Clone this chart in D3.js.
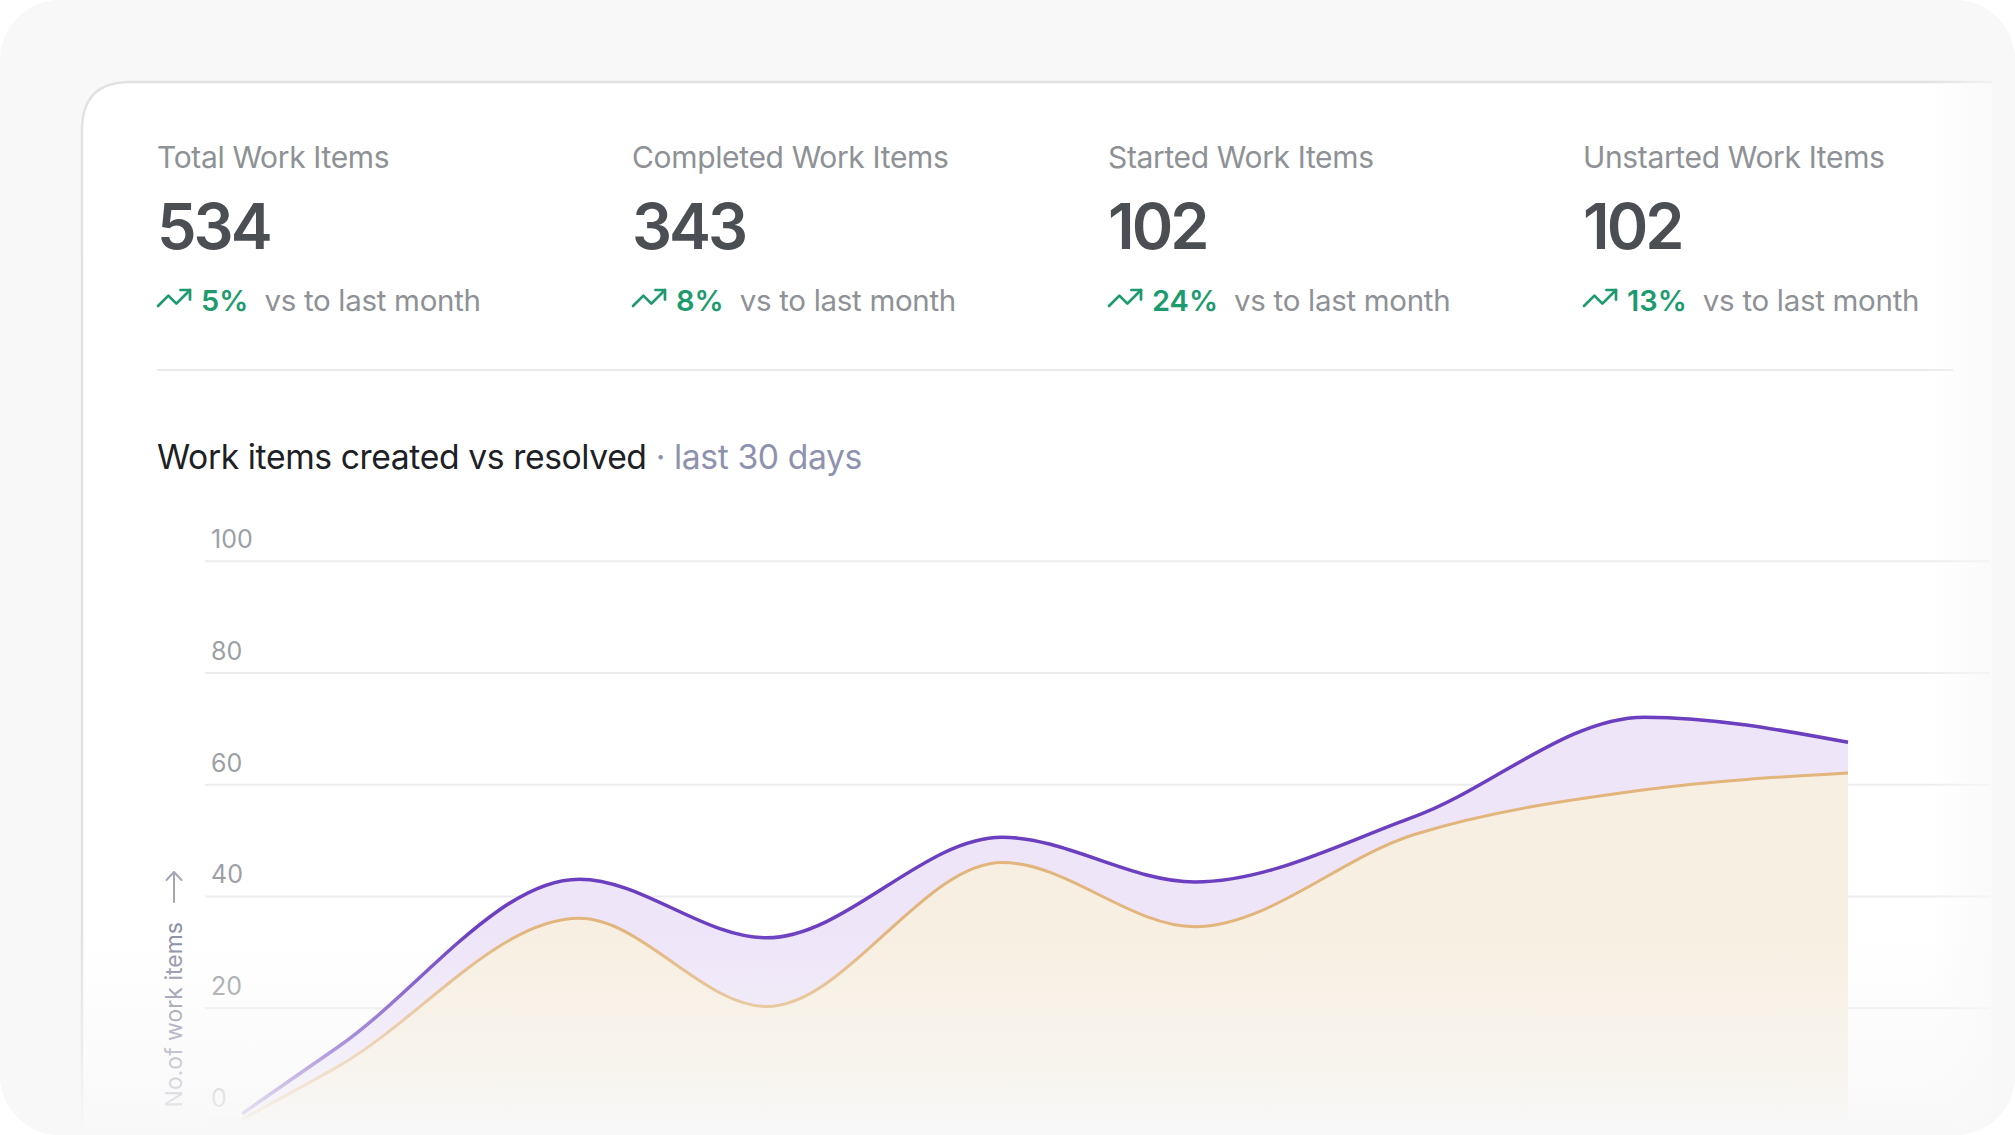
<!DOCTYPE html>
<html>
<head>
<meta charset="utf-8">
<script src="https://cdn.jsdelivr.net/npm/d3@7"></script>
<style>
  html, body { margin: 0; padding: 0; background: #ffffff; }
  svg { display: block; font-family: Inter, "Noto Sans", sans-serif; }
</style>
</head>
<body>
<svg id="chart" width="2015" height="1135"></svg>
<script>
// ---- data ----
const kpiLabels = ["Total Work Items", "Completed Work Items", "Started Work Items", "Unstarted Work Items"];
const kpiValues = ["534", "343", "102", "102"];
const kpiChanges = ["5%", "8%", "24%", "13%"];
const kpiNote = "vs to last month";

const chartTitle = "Work items created vs resolved";
const chartSubtitle = " · last 30 days";
const yAxisTitle = "No.of work items";

// day position of each reading within the 30-day window
const days = [0, 1.8, 6.3, 9.8, 14.2, 17.8, 21.9, 26.2, 30];
const created = [1, 13, 43, 32.5, 50.5, 42.5, 54.2, 72, 67.5];
const resolved = [0, 9.5, 36, 20.2, 46, 34.5, 51, 59, 62];
const yTicks = [0, 20, 40, 60, 80, 100];

// ---- drawing ----
const W = 2015, H = 1135;
const svg = d3.select("#chart");
const defs = svg.append("defs");

defs.append("clipPath").attr("id", "outerClip")
  .append("rect").attr("x", 0).attr("y", 0).attr("width", W).attr("height", H).attr("rx", 60).attr("ry", 60);

const bottomFade = defs.append("linearGradient").attr("id", "bottomFade")
  .attr("x1", 0).attr("y1", 0).attr("x2", 0).attr("y2", 1);
bottomFade.append("stop").attr("offset", "0%").attr("stop-color", "#f8f8f8").attr("stop-opacity", 0);
bottomFade.append("stop").attr("offset", "55%").attr("stop-color", "#f8f8f8").attr("stop-opacity", 0.45);
bottomFade.append("stop").attr("offset", "100%").attr("stop-color", "#f8f8f8").attr("stop-opacity", 1);

const rightFade = defs.append("linearGradient").attr("id", "rightFade")
  .attr("x1", 0).attr("y1", 0).attr("x2", 1).attr("y2", 0);
rightFade.append("stop").attr("offset", "0%").attr("stop-color", "#f8f8f8").attr("stop-opacity", 0);
rightFade.append("stop").attr("offset", "100%").attr("stop-color", "#f8f8f8").attr("stop-opacity", 1);

const root = svg.append("g").attr("clip-path", "url(#outerClip)");
root.append("rect").attr("width", W).attr("height", H).attr("fill", "#f8f8f8");

// card: rounded top-left corner, extends past right and bottom
const cx0 = 82, cy0 = 82, r = 48, cardRight = 1992;
root.append("path")
  .attr("d", `M${cx0},${H + 20} L${cx0},${cy0 + r} Q${cx0},${cy0} ${cx0 + r},${cy0} L${cardRight},${cy0} L${cardRight},${H + 20} Z`)
  .attr("fill", "#ffffff");
root.append("path")
  .attr("d", `M${cx0},${H + 20} L${cx0},${cy0 + r} Q${cx0},${cy0} ${cx0 + r},${cy0} L${cardRight},${cy0}`)
  .attr("fill", "none")
  .attr("stroke", "#e2e2e3")
  .attr("stroke-width", 2.5);

// KPI row
const colX = [157, 632, 1108, 1583];
const kpi = root.append("g").selectAll("g").data(kpiLabels).join("g")
  .attr("transform", (d, i) => `translate(${colX[i]},0)`);

kpi.append("text").attr("x", 0).attr("y", 168)
  .attr("font-size", 30).attr("fill", "#8e9195").attr("letter-spacing", -0.35)
  .text(d => d);

kpi.append("text").attr("x", 0).attr("y", 249)
  .attr("font-size", 63).attr("font-weight", 600).attr("fill", "#4b4f53").attr("letter-spacing", -3)
  .text((d, i) => kpiValues[i]);

// trending-up icon
const icon = kpi.append("g").attr("transform", "translate(-2.2,278.8) scale(1.6)")
  .attr("fill", "none").attr("stroke", "#1e9b6e").attr("stroke-width", 1.7)
  .attr("stroke-linecap", "round").attr("stroke-linejoin", "round");
icon.append("polyline").attr("points", "22 7 13.5 15.5 8.5 10.5 2 17");
icon.append("polyline").attr("points", "16 7 22 7 22 13");

const trend = kpi.append("text").attr("x", 44).attr("y", 311).attr("font-size", 29.5);
trend.append("tspan").attr("font-weight", 600).attr("fill", "#1e9b6e").attr("font-size", 29).text((d, i) => kpiChanges[i]);
trend.append("tspan").attr("dx", 16).attr("fill", "#8e9195").attr("letter-spacing", -0.3).text(kpiNote);

// separator
root.append("line").attr("x1", 157).attr("x2", 1953).attr("y1", 370).attr("y2", 370)
  .attr("stroke", "#ebebec").attr("stroke-width", 2);

// title
const title = root.append("text").attr("x", 157).attr("y", 469).attr("font-size", 33.7).attr("letter-spacing", -0.4);
title.append("tspan").attr("fill", "#1d2125").text(chartTitle);
title.append("tspan").attr("fill", "#8e92ae").text(chartSubtitle);

// scales
const x = d3.scaleLinear().domain([0, 30]).range([242, 1848]);
const y = d3.scaleLinear().domain([0, 100]).range([1119.4, 560.7]);

// grid + ticks
const gridRight = 1990, gridLeft = 205;
const yAxis = d3.axisRight(y).tickValues(yTicks).tickSize(gridRight - gridLeft).tickFormat(d3.format("d"));
const ga = root.append("g").attr("transform", `translate(${gridLeft},0)`).call(yAxis);
ga.select(".domain").remove();
ga.selectAll(".tick line").attr("stroke", "#ededee").attr("stroke-width", 2);
ga.selectAll(".tick text")
  .attr("x", 6).attr("dy", -13).attr("y", 0)
  .attr("text-anchor", "start")
  .attr("font-family", "Inter, sans-serif")
  .attr("font-size", 25).attr("fill", "#9c9fa4");

// areas and lines
const pts = days.map((d, i) => ({ d, c: created[i], r: resolved[i] }));
const areaC = d3.area().x(p => x(p.d)).y0(y(0)).y1(p => y(p.c)).curve(d3.curveMonotoneX);
const areaR = d3.area().x(p => x(p.d)).y0(y(0)).y1(p => y(p.r)).curve(d3.curveMonotoneX);
const lineC = d3.line().x(p => x(p.d)).y(p => y(p.c)).curve(d3.curveMonotoneX);
const lineR = d3.line().x(p => x(p.d)).y(p => y(p.r)).curve(d3.curveMonotoneX);

root.append("path").datum(pts).attr("d", areaC).attr("fill", "#eee5f9");
root.append("path").datum(pts).attr("d", areaR).attr("fill", "#f7efe1");
root.append("path").datum(pts).attr("d", lineR).attr("fill", "none").attr("stroke", "#e2b57c").attr("stroke-width", 3);
root.append("path").datum(pts).attr("d", lineC).attr("fill", "none").attr("stroke", "#6b3fc0").attr("stroke-width", 3.5);

// y axis title with arrow
root.append("text")
  .attr("transform", "translate(182,922) rotate(-90)")
  .attr("text-anchor", "end")
  .attr("font-size", 23).attr("fill", "#8b8fa4")
  .text(yAxisTitle);
root.append("path")
  .attr("d", "M174,902 L174,872 M166.5,880 L174,872 L181.5,880")
  .attr("fill", "none").attr("stroke", "#a3a6b2").attr("stroke-width", 2)
  .attr("stroke-linecap", "round").attr("stroke-linejoin", "round");

// fades
root.append("rect").attr("x", 0).attr("y", 930).attr("width", W).attr("height", H - 930).attr("fill", "url(#bottomFade)");
root.append("rect").attr("x", 1930).attr("y", 60).attr("width", 85).attr("height", H).attr("fill", "url(#rightFade)");
</script>
</body>
</html>
